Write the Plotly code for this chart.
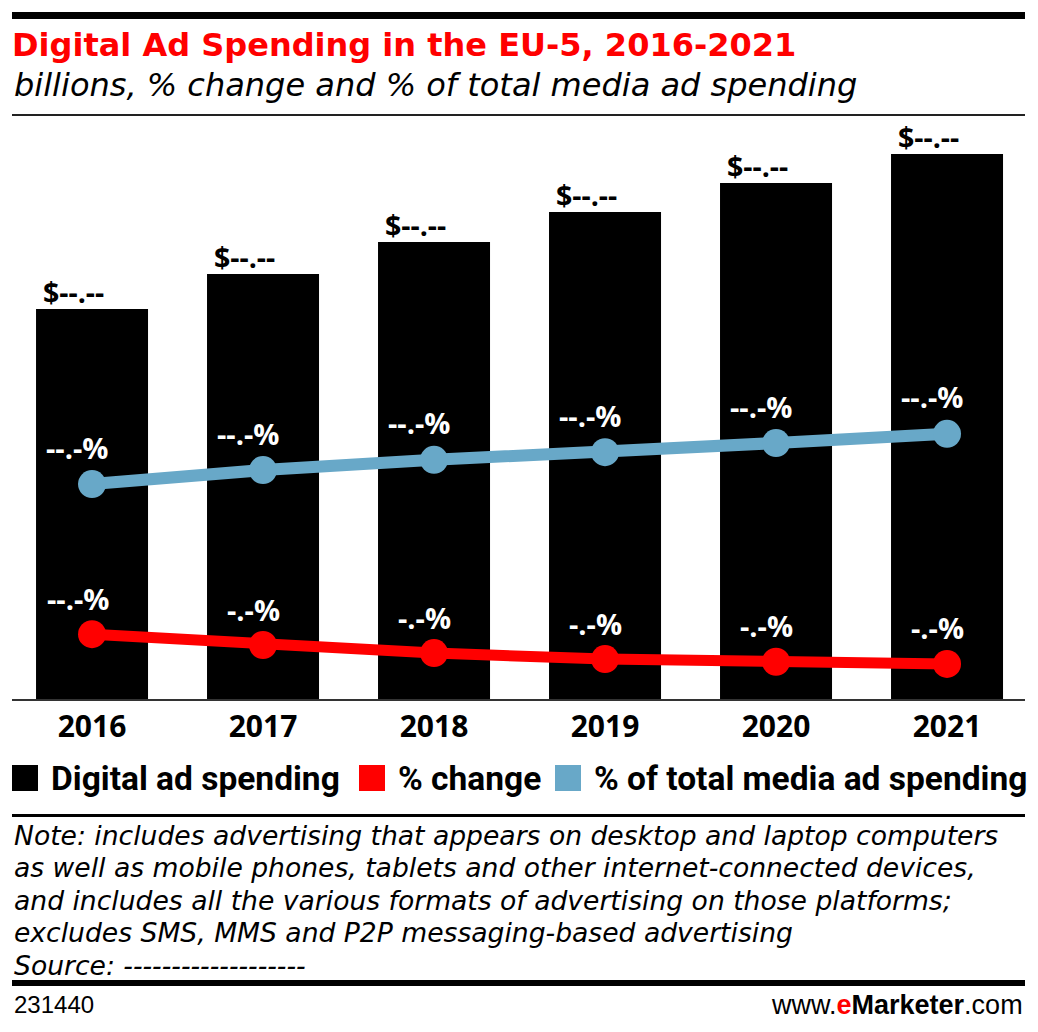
import plotly.graph_objects as go

# Values (labels are masked, so heights are estimated)
years = ["2016", "2017", "2018", "2019", "2020", "2021"]
ad_spending = [19.5, 21.25, 22.85, 24.35, 25.8, 27.25]     # billions
pct_change = [12.0, 10.0, 8.5, 7.4, 6.9, 6.5]              # % change
pct_of_total = [39.8, 42.4, 44.3, 45.7, 47.4, 49.1]        # % of total media ad spending
spending_labels = ["$--.--", "$--.--", "$--.--", "$--.--", "$--.--", "$--.--"]
change_labels = ["--.-%", "-.-%", "-.-%", "-.-%", "-.-%", "-.-%"]
share_labels = ["--.-%", "--.-%", "--.-%", "--.-%", "--.-%", "--.-%"]
series_names = ["Digital ad spending", "% change", "% of total media ad spending"]

title = "Digital Ad Spending in the EU-5, 2016-2021"
subtitle = "billions, % change and % of total media ad spending"
note_lines = [
    "Note: includes advertising that appears on desktop and laptop computers",
    "as well as mobile phones, tablets and other internet-connected devices,",
    "and includes all the various formats of advertising on those platforms;",
    "excludes SMS, MMS and P2P messaging-based advertising",
    "Source: -------------------",
]
chart_id = "231440"

BLACK = "#000000"
RED = "#FF0000"
BLUE = "#68A8C8"
W, H = 1038, 1032
L, R, T, B = 12, 13, 130, 333
PLOT_W = W - L - R
PLOT_H = H - T - B

BOLD = "Open Sans"
WIDE = "DejaVu Sans"


def px(x, y):
    """pixel position on the page -> paper coordinates"""
    return (x - L) / PLOT_W, (H - B - y) / PLOT_H


fig = go.Figure()

fig.add_trace(go.Bar(
    x=years, y=ad_spending, name=series_names[0],
    marker=dict(color=BLACK, line=dict(width=0)),
    width=0.655, showlegend=False,
))
fig.add_trace(go.Scatter(
    x=years, y=pct_of_total, name=series_names[2], yaxis="y2",
    mode="lines+markers",
    line=dict(color=BLUE, width=12),
    marker=dict(color=BLUE, size=28),
    showlegend=False,
))
fig.add_trace(go.Scatter(
    x=years, y=pct_change, name=series_names[1], yaxis="y2",
    mode="lines+markers",
    line=dict(color=RED, width=11),
    marker=dict(color=RED, size=28),
    showlegend=False,
))

annotations = []

# value labels (x given as category index)
for i, (v, lab) in enumerate(zip(ad_spending, spending_labels)):
    annotations.append(dict(
        x=i, y=v, xref="x", yref="y", text=lab, showarrow=False,
        xanchor="right", yanchor="middle", xshift=14, yshift=17,
        font=dict(family=BOLD, size=28.5, color=BLACK, weight="bold"),
    ))
for i, (v, lab) in enumerate(zip(pct_of_total, share_labels)):
    annotations.append(dict(
        x=i, y=v, xref="x", yref="y2", text=lab, showarrow=False,
        xanchor="right", yanchor="middle", xshift=18, yshift=37,
        font=dict(family=BOLD, size=29, color="white", weight="bold"),
    ))
for i, (v, lab) in enumerate(zip(pct_change, change_labels)):
    annotations.append(dict(
        x=i, y=v, xref="x", yref="y2", text=lab, showarrow=False,
        xanchor="right", yanchor="middle", xshift=19, yshift=36,
        font=dict(family=BOLD, size=29, color="white", weight="bold"),
    ))

# subtitle
sx, sy = px(12, 85)
annotations.append(dict(
    x=sx, y=sy, xref="paper", yref="paper", text=subtitle, showarrow=False,
    xanchor="left", yanchor="middle",
    font=dict(family=WIDE, size=32, color=BLACK, style="italic"),
))

# legend (drawn by hand to get the big square swatches)
shapes = []
legend_items = [
    (series_names[0], BLACK, 12, 49),
    (series_names[1], RED, 359, 396),
    (series_names[2], BLUE, 555, 592),
]
for name, col, sq_x, tx in legend_items:
    x0, y0 = px(sq_x, 791)
    x1, y1 = px(sq_x + 26, 765)
    shapes.append(dict(type="rect", xref="paper", yref="paper",
                       x0=x0, y0=y0, x1=x1, y1=y1,
                       fillcolor=col, line=dict(width=0)))
    lx, ly = px(tx, 778)
    annotations.append(dict(
        x=lx, y=ly, xref="paper", yref="paper", text=name, showarrow=False,
        xanchor="left", yanchor="middle",
        font=dict(family="Roboto", size=33.5, color=BLACK, weight="bold"),
    ))

# note + source
for i, line in enumerate(note_lines):
    nx, ny = px(12, 835 + i * 32.5)
    annotations.append(dict(
        x=nx, y=ny, xref="paper", yref="paper", text=line, showarrow=False,
        xanchor="left", yanchor="middle",
        font=dict(family=WIDE, size=26.6, color=BLACK, style="italic"),
    ))

# footer
fx, fy = px(12, 1005)
annotations.append(dict(
    x=fx, y=fy, xref="paper", yref="paper", text=chart_id, showarrow=False,
    xanchor="left", yanchor="middle",
    font=dict(family="Liberation Sans, Arial", size=24, color=BLACK),
))
fx, fy = px(1025, 1005)
annotations.append(dict(
    x=fx, y=fy, xref="paper", yref="paper",
    text="www.<b><span style='color:#FF0000'>e</span>Marketer</b>.com",
    showarrow=False, xanchor="right", yanchor="middle",
    font=dict(family="Liberation Sans, Arial", size=27, color=BLACK),
))

# rules
for y_top, y_bot in [(12, 19), (114, 116), (814, 817), (980, 986)]:
    x0, y0 = px(12, y_bot)
    x1, y1 = px(1025, y_top)
    shapes.append(dict(type="rect", xref="paper", yref="paper",
                       x0=x0, y0=y0, x1=x1, y1=y1,
                       fillcolor=BLACK if y_bot - y_top > 2 else "#222222",
                       line=dict(width=0)))

fig.update_layout(
    width=W, height=H,
    margin=dict(l=L, r=R, t=T, b=B, pad=0),
    paper_bgcolor="white", plot_bgcolor="white",
    title=dict(
        text=title, x=12 / W, y=1 - 45 / H, xref="container", yref="container",
        xanchor="left", yanchor="middle",
        font=dict(family=WIDE, size=32, color=RED, weight="bold"),
    ),
    xaxis=dict(
        type="category", range=[-0.468, 5.456],
        showline=True, linecolor="#333333", linewidth=2,
        ticks="", showgrid=False, zeroline=False,
        tickfont=dict(family=BOLD, size=30, color=BLACK, weight="bold"),
    ),
    yaxis=dict(range=[0, 28.45], visible=False, showgrid=False, zeroline=False),
    yaxis2=dict(range=[0, 105.37], overlaying="y", visible=False,
                showgrid=False, zeroline=False),
    bargap=0.345,
    showlegend=False,
    annotations=annotations,
    shapes=shapes,
)

fig.write_html("out.html", config={"displayModeBar": False},
               post_script="document.body.style.margin='0';")
